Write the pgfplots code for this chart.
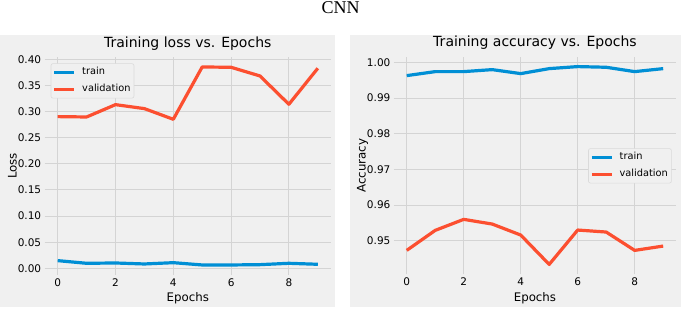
\documentclass[border=0pt]{standalone}
\usepackage{pgfplots}
\pgfplotsset{compat=1.18}
\usepackage{fontspec}
\setmainfont{DejaVu Sans}
\newfontfamily\seriffont{Liberation Serif}
\definecolor{bg}{HTML}{F0F0F0}
\definecolor{gridc}{HTML}{D4D4D4}
\definecolor{tblue}{HTML}{008FD5}
\definecolor{tred}{HTML}{FC4F30}
\definecolor{legedge}{HTML}{DADADA}
\pgfplotsset{
  legend image code/.code={\draw[#1, line width=2.7pt] (0pt,0pt) -- (20pt,0pt);},
  panel/.style={
    scale only axis,
    axis line style={draw=none},
    major tick length=0pt,
    grid=major,
    major grid style={gridc, line width=0.9pt},
    xmin=-0.45, xmax=9.45, xtick={0,2,4,6,8},
    tick label style={font=\fontsize{10.5}{12}\selectfont},
    /pgf/number format/assume math mode=true,
    label style={font=\fontsize{11.8}{14}\selectfont},
    title style={font=\fontsize{14}{16}\selectfont, at={(axis description cs:0.5,1)}, anchor=base, yshift=3.8pt},
    xlabel style={at={(axis description cs:0.5,0)}, anchor=base, yshift=-26.8pt},
    legend style={draw=legedge, fill=bg, rounded corners=2pt, line width=0.6pt,
      font=\fontsize{9.8}{11}\selectfont, inner xsep=2pt, inner ysep=2.25pt,
      row sep=4pt, column sep=5pt,
      nodes={inner sep=1.5pt, text height=7.5pt, text depth=2.5pt},
      cells={anchor=west}},
    every axis plot/.append style={line width=3.2pt, line join=round},
  }
}
\begin{document}
\begin{tikzpicture}
\useasboundingbox (0,0) rectangle (685pt,310pt);
\fill[bg] (0pt,3pt) rectangle (335pt,275pt);
\fill[bg] (350pt,3pt) rectangle (681pt,275pt);
\node[anchor=base, font=\seriffont\fontsize{18}{20}\selectfont] at (340.7pt,296.7pt) {CNN};

\begin{axis}[panel,
  at={(44.7pt,35.1pt)}, anchor=south west,
  width=286.1pt, height=217.8pt,
  ymin=-0.0126, ymax=0.4042,
  ytick={0,0.05,0.10,0.15,0.20,0.25,0.30,0.35,0.40},
  yticklabel style={/pgf/number format/.cd, fixed, fixed zerofill, precision=2},
  title={Training loss vs. Epochs},
  xlabel={Epochs}, ylabel={Loss},
  ylabel style={at={(axis description cs:-0.0979,0.5)}, anchor=base},
  legend style={at={(axis description cs:0.021,0.9715)}, anchor=north west},
]
\addplot[tblue] coordinates {(0,0.0147) (1,0.0096) (2,0.0102) (3,0.0083) (4,0.0108) (5,0.0064) (6,0.0064) (7,0.0070) (8,0.0096) (9,0.0077)};
\addlegendentry{train}
\addplot[tred] coordinates {(0,0.2903) (1,0.2896) (2,0.3132) (3,0.3056) (4,0.2852) (5,0.3853) (6,0.3847) (7,0.3681) (8,0.3139) (9,0.3828)};
\addlegendentry{validation}
\end{axis}

\begin{axis}[panel,
  at={(393.9pt,35.7pt)}, anchor=south west,
  width=282.1pt, height=217.6pt,
  ymin=0.94059, ymax=1.00156,
  ytick={0.95,0.96,0.97,0.98,0.99,1.00},
  yticklabel style={/pgf/number format/.cd, fixed, fixed zerofill, precision=2},
  title={Training accuracy vs. Epochs},
  xlabel={Epochs}, ylabel={Accuracy},
  ylabel style={at={(axis description cs:-0.1,0.5)}, anchor=base},
  legend style={at={(axis description cs:0.9848,0.579)}, anchor=north east},
]
\addplot[tblue] coordinates {(0,0.99626) (1,0.99738) (2,0.99738) (3,0.99794) (4,0.99682) (5,0.99822) (6,0.99879) (7,0.99860) (8,0.99738) (9,0.99822)};
\addlegendentry{train}
\addplot[tred] coordinates {(0,0.94729) (1,0.95290) (2,0.95598) (3,0.95467) (4,0.95159) (5,0.94336) (6,0.95299) (7,0.95243) (8,0.94729) (9,0.94850)};
\addlegendentry{validation}
\end{axis}
\end{tikzpicture}
\end{document}
